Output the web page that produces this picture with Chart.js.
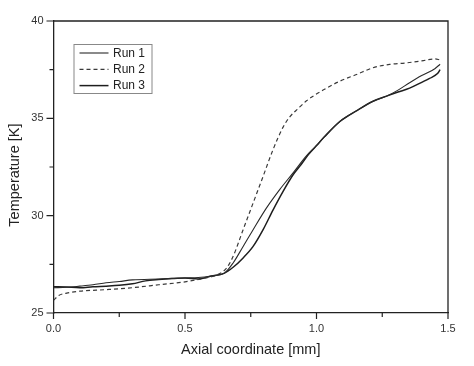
<!DOCTYPE html>
<html>
<head>
<meta charset="utf-8">
<script src="https://cdn.jsdelivr.net/npm/chart.js@4/dist/chart.umd.min.js"></script>
<style>
  html, body { margin: 0; padding: 0; background: #fff; }
  #wrap { width: 474px; height: 366px; }
</style>
</head>
<body>
<div id="wrap"><canvas id="c" width="474" height="366"></canvas></div>
<script>
// ---- data ----
const seriesNames = ['Run 1', 'Run 2', 'Run 3'];

const run1X = [0.0, 0.05, 0.1, 0.15, 0.2, 0.25, 0.3, 0.4, 0.5, 0.55, 0.6, 0.65, 0.683, 0.721, 0.759, 0.81, 0.86, 0.911, 0.96, 1.0, 1.03, 1.09, 1.15, 1.215, 1.266, 1.31, 1.354, 1.4, 1.45, 1.47];
const run1Y = [26.3, 26.32, 26.38, 26.45, 26.55, 26.62, 26.7, 26.75, 26.8, 26.82, 26.9, 27.05, 27.57, 28.42, 29.28, 30.4, 31.34, 32.2, 33.05, 33.6, 34.05, 34.85, 35.37, 35.88, 36.14, 36.45, 36.83, 37.2, 37.55, 37.78];

const run2X = [0.0, 0.02, 0.05, 0.1, 0.2, 0.3, 0.4, 0.5, 0.57, 0.62, 0.658, 0.683, 0.721, 0.759, 0.797, 0.835, 0.873, 0.9, 0.93, 0.962, 1.025, 1.089, 1.152, 1.215, 1.278, 1.342, 1.4, 1.45, 1.47];
const run2Y = [25.65, 25.9, 26.02, 26.12, 26.2, 26.3, 26.45, 26.6, 26.78, 26.95, 27.31, 27.91, 29.28, 30.65, 32.02, 33.4, 34.55, 35.1, 35.5, 35.9, 36.45, 36.91, 37.25, 37.6, 37.77, 37.85, 37.95, 38.05, 38.0];

const run3X = [0.0, 0.05, 0.1, 0.15, 0.2, 0.25, 0.3, 0.35, 0.4, 0.45, 0.5, 0.55, 0.6, 0.65, 0.683, 0.721, 0.759, 0.797, 0.835, 0.873, 0.911, 0.94, 0.97, 1.0, 1.03, 1.09, 1.15, 1.215, 1.266, 1.31, 1.354, 1.4, 1.43, 1.46, 1.47];
const run3Y = [26.35, 26.33, 26.3, 26.35, 26.38, 26.42, 26.5, 26.65, 26.72, 26.77, 26.8, 26.75, 26.9, 27.05, 27.35, 27.83, 28.42, 29.28, 30.3, 31.25, 32.1, 32.6, 33.15, 33.6, 34.05, 34.85, 35.37, 35.88, 36.14, 36.35, 36.55, 36.85, 37.05, 37.3, 37.5];

const xMajorTicks = [0.0, 0.5, 1.0, 1.5];
const xMinorTicks = [0.25, 0.75, 1.25];
const yMajorTicks = [25, 30, 35, 40];
const yMinorTicks = [27.5, 32.5, 37.5];
const xTickLabels = ['0.0', '0.5', '1.0', '1.5'];
const yTickLabels = ['25', '30', '35', '40'];
const xTitle = 'Axial coordinate [mm]';
const yTitle = 'Temperature [K]';

function pts(xs, ys) { return xs.map((x, i) => ({ x: x, y: ys[i] })); }

const FONT = "'Liberation Sans', Arial, sans-serif";
const AXIS = '#222';

const ticksPlugin = {
  id: 'ticksFrame',
  afterDraw(chart) {
    const ctx = chart.ctx, a = chart.chartArea;
    const xs = chart.scales.x, ys = chart.scales.y;
    ctx.save();
    ctx.strokeStyle = AXIS;
    ctx.lineWidth = 1.3;
    // frame top + right
    ctx.beginPath();
    ctx.moveTo(a.left, a.top); ctx.lineTo(a.right, a.top); ctx.lineTo(a.right, a.bottom);
    ctx.stroke();
    ctx.lineWidth = 1.2;
    ctx.beginPath();
    xMajorTicks.forEach(v => { const p = xs.getPixelForValue(v); ctx.moveTo(p, a.bottom); ctx.lineTo(p, a.bottom + 6); });
    xMinorTicks.forEach(v => { const p = xs.getPixelForValue(v); ctx.moveTo(p, a.bottom); ctx.lineTo(p, a.bottom + 4); });
    yMajorTicks.forEach(v => { const p = ys.getPixelForValue(v); ctx.moveTo(a.left, p); ctx.lineTo(a.left - 7, p); });
    yMinorTicks.forEach(v => { const p = ys.getPixelForValue(v); ctx.moveTo(a.left, p); ctx.lineTo(a.left - 4, p); });
    ctx.stroke();

    // legend box
    const lx = a.left + 20, ly = a.top + 23, lw = 78, lh = 49;
    ctx.fillStyle = '#fff';
    ctx.fillRect(lx, ly, lw, lh);
    ctx.strokeStyle = '#888';
    ctx.lineWidth = 1;
    ctx.strokeRect(lx + 0.5, ly + 0.5, lw, lh);
    chart.data.datasets.forEach((ds, i) => {
      const yy = ly + 9 + i * 16.3;
      ctx.save();
      ctx.strokeStyle = ds.borderColor;
      ctx.lineWidth = ds.borderWidth;
      ctx.setLineDash(ds.borderDash || []);
      ctx.beginPath();
      ctx.moveTo(lx + 6, yy); ctx.lineTo(lx + 35, yy);
      ctx.stroke();
      ctx.restore();
      ctx.fillStyle = '#222';
      ctx.font = '12px ' + FONT;
      ctx.textBaseline = 'middle';
      ctx.textAlign = 'left';
      ctx.fillText(ds.label, lx + 39.5, yy + 0.5);
    });
    ctx.restore();
  }
};

new Chart(document.getElementById('c'), {
  type: 'line',
  data: {
    datasets: [
      { label: seriesNames[0], data: pts(run1X, run1Y), borderColor: '#2a2a2a', borderWidth: 1.1, cubicInterpolationMode: 'monotone', pointRadius: 0, fill: false },
      { label: seriesNames[1], data: pts(run2X, run2Y), borderColor: '#3a3a3a', borderWidth: 1.2, borderDash: [4, 3], cubicInterpolationMode: 'monotone', pointRadius: 0, fill: false },
      { label: seriesNames[2], data: pts(run3X, run3Y), borderColor: '#1e1e1e', borderWidth: 1.5, cubicInterpolationMode: 'monotone', pointRadius: 0, fill: false }
    ]
  },
  options: {
    responsive: false,
    animation: false,
    devicePixelRatio: 1,
    layout: { padding: { left: 0, top: 21, right: 26, bottom: 0 } },
    plugins: { legend: { display: false }, tooltip: { enabled: false } },
    scales: {
      x: {
        type: 'linear', min: 0, max: 1.5,
        afterBuildTicks(s) { s.ticks = xMajorTicks.map(v => ({ value: v })); },
        afterFit(s) { s.height = 53; },
        grid: { display: false, drawTicks: false },
        border: { display: true, color: AXIS, width: 1.3 },
        ticks: {
          padding: 9, color: '#333', font: { family: FONT, size: 11 },
          maxRotation: 0,
          callback(v) { const i = xMajorTicks.indexOf(v); return i >= 0 ? xTickLabels[i] : ''; }
        },
        title: { display: true, text: xTitle, color: '#222', font: { family: FONT, size: 14.5 }, padding: { top: 0, bottom: 7 } }
      },
      y: {
        type: 'linear', min: 25, max: 40,
        afterBuildTicks(s) { s.ticks = yMajorTicks.map(v => ({ value: v })); },
        afterFit(s) { s.width = 53.5; },
        grid: { display: false, drawTicks: false },
        border: { display: true, color: AXIS, width: 1.3 },
        ticks: {
          padding: 10, color: '#333', font: { family: FONT, size: 11 },
          callback(v) { const i = yMajorTicks.indexOf(v); return i >= 0 ? yTickLabels[i] : ''; }
        },
        title: { display: true, text: yTitle + '    ', color: '#222', font: { family: FONT, size: 14.5 }, padding: { top: 6, bottom: 0 } }
      }
    }
  },
  plugins: [ticksPlugin]
});
</script>
</body>
</html>
